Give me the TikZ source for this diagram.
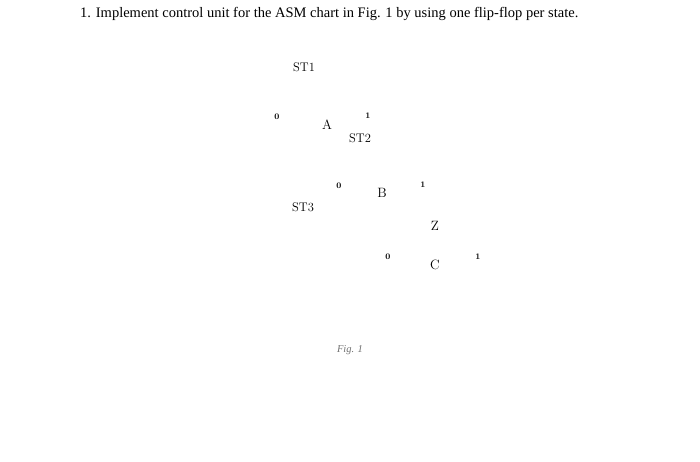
\documentclass[tikz,border=0pt]{standalone}
\usepackage{fontspec}
\newfontfamily\titlefont{Liberation Serif}
\begin{document}
\begin{tikzpicture}[x=1pt,y=-1pt,
  state/.style={inner sep=0pt,font=\fontsize{12.5}{14}\selectfont},
  cond/.style={inner sep=0pt,font=\fontsize{13.5}{15}\selectfont},
  bit/.style={inner sep=0pt,font=\bfseries\fontsize{8.5}{9}\selectfont},
  caption/.style={inner sep=0pt,text=black!55,font=\titlefont\itshape\fontsize{10.5}{12}\selectfont}]
\useasboundingbox (0,0) rectangle (700,462);
\fill[white] (0,0) rectangle (700,462);
\node[anchor=west,inner sep=0pt,font=\titlefont\fontsize{14.5}{16}\selectfont] (title) at (80,14) {1. Implement control unit for the ASM chart in Fig. 1 by using one flip-flop per state.};
\node[state] (st1) at (304,67) {ST1};
\node[bit] (a0) at (277,117) {0};
\node[cond] (a) at (327,125) {A};
\node[bit] (a1) at (368,116) {1};
\node[state] (st2) at (360,138) {ST2};
\node[bit] (b0) at (339,186) {0};
\node[cond] (b) at (382,193) {B};
\node[bit] (b1) at (423,185) {1};
\node[state] (st3) at (303,207) {ST3};
\node[cond] (z) at (435,226) {Z};
\node[bit] (c0) at (388,257) {0};
\node[cond] (c) at (435,265) {C};
\node[bit] (c1) at (478,257) {1};
\node[caption] (fig) at (350,350) {Fig. 1};
\end{tikzpicture}
\end{document}
